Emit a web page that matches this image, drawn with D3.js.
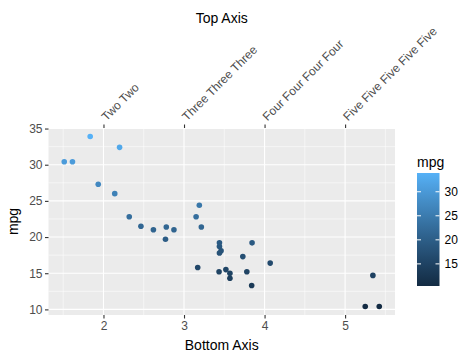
<!DOCTYPE html>
<html>
<head>
<meta charset="utf-8">
<script src="https://cdn.jsdelivr.net/npm/d3@7"></script>
<style>
  body { margin: 0; background: #fff; }
  text { font-family: "Liberation Sans", Arial, sans-serif; }
</style>
</head>
<body>
<svg id="chart" width="474" height="357"></svg>
<script>
// mtcars: weight (1000 lbs) and miles per gallon
const wt  = [2.620, 2.875, 2.320, 3.215, 3.440, 3.460, 3.570, 3.190, 3.150, 3.440, 3.440, 4.070, 3.730, 3.780, 5.250, 5.424, 5.345, 2.200, 1.615, 1.835, 2.465, 3.520, 3.435, 3.840, 3.845, 1.935, 2.140, 1.513, 3.170, 2.770, 3.570, 2.780];
const mpg = [21.0, 21.0, 22.8, 21.4, 18.7, 18.1, 14.3, 24.4, 22.8, 19.2, 17.8, 16.4, 17.3, 15.2, 10.4, 10.4, 14.7, 32.4, 30.4, 33.9, 21.5, 15.5, 15.2, 13.3, 19.2, 27.3, 26.0, 30.4, 15.8, 19.7, 15.0, 21.4];
const xTicks = [2, 3, 4, 5];
const yTicks = [10, 15, 20, 25, 30, 35];
const topLabels = ["Two Two", "Three Three Three", "Four Four Four Four", "Five Five Five Five Five"];
const legendTicks = [15, 20, 25, 30];
const titleText = "Top Axis";
const xTitle = "Bottom Axis";
const yTitle = "mpg";
const legendTitle = "mpg";

const svg = d3.select("#chart");
const P = { left: 48.5, right: 395, top: 128, bottom: 315 };

const xMin = d3.min(wt), xMax = d3.max(wt);
const xPad = (xMax - xMin) * 0.05;
const yMin = d3.min(mpg), yMax = d3.max(mpg);
const yPad = (yMax - yMin) * 0.05;

const x = d3.scaleLinear().domain([xMin - xPad, xMax + xPad]).range([P.left, P.right]);
const y = d3.scaleLinear().domain([yMin - yPad, yMax + yPad]).range([P.bottom, P.top]);
const color = d3.scaleLinear().domain([yMin, yMax]).range(["#132B43", "#56B1F7"]).interpolate(d3.interpolateLab);

// panel
svg.append("rect").attr("x", P.left).attr("y", P.top)
  .attr("width", P.right - P.left).attr("height", P.bottom - P.top).attr("fill", "#EBEBEB");

const xMinor = [1.5, 2.5, 3.5, 4.5, 5.5];
const yMinor = [12.5, 17.5, 22.5, 27.5, 32.5];
const grid = svg.append("g");
xMinor.forEach(v => grid.append("line").attr("x1", x(v)).attr("x2", x(v)).attr("y1", P.top).attr("y2", P.bottom)
  .attr("stroke", "#fff").attr("stroke-width", 0.55));
yMinor.forEach(v => grid.append("line").attr("y1", y(v)).attr("y2", y(v)).attr("x1", P.left).attr("x2", P.right)
  .attr("stroke", "#fff").attr("stroke-width", 0.55));
xTicks.forEach(v => grid.append("line").attr("x1", x(v)).attr("x2", x(v)).attr("y1", P.top).attr("y2", P.bottom)
  .attr("stroke", "#fff").attr("stroke-width", 1.1));
yTicks.forEach(v => grid.append("line").attr("y1", y(v)).attr("y2", y(v)).attr("x1", P.left).attr("x2", P.right)
  .attr("stroke", "#fff").attr("stroke-width", 1.1));

// points
svg.append("g").selectAll("circle").data(wt.map((w, i) => [w, mpg[i]])).join("circle")
  .attr("cx", d => x(d[0])).attr("cy", d => y(d[1])).attr("r", 2.8)
  .attr("fill", d => color(d[1]));

// axes
function styleAxis(sel) {
  sel.select(".domain").remove();
  sel.selectAll(".tick line").attr("stroke", "#333333").attr("stroke-width", 1.1);
  sel.selectAll(".tick text").attr("fill", "#4D4D4D").style("font-size", "12px");
}
const bottomAxis = svg.append("g").attr("transform", `translate(0,${P.bottom})`)
  .call(d3.axisBottom(x).tickValues(xTicks).tickSize(3.5).tickPadding(2.5).tickFormat(d3.format("d")));
styleAxis(bottomAxis);

const leftAxis = svg.append("g").attr("transform", `translate(${P.left},0)`)
  .call(d3.axisLeft(y).tickValues(yTicks).tickSize(3.5).tickPadding(2.5).tickFormat(d3.format("d")));
styleAxis(leftAxis);

const topAxis = svg.append("g").attr("transform", `translate(0,${P.top})`)
  .call(d3.axisTop(x).tickValues(xTicks).tickSize(3.5).tickFormat((d, i) => topLabels[i]));
styleAxis(topAxis);
topAxis.selectAll(".tick text")
  .attr("text-anchor", "start").attr("x", 0).attr("y", 0).attr("dy", null)
  .attr("transform", "translate(2.5,-6.5) rotate(-45)");

// titles
svg.append("text").attr("x", (P.left + P.right) / 2).attr("y", 23).attr("text-anchor", "middle")
  .style("font-size", "14px").attr("fill", "#000").text(titleText);
svg.append("text").attr("x", (P.left + P.right) / 2).attr("y", 350).attr("text-anchor", "middle")
  .style("font-size", "14px").attr("fill", "#000").text(xTitle);
svg.append("text").attr("transform", `translate(18,${(P.top + P.bottom) / 2}) rotate(-90)`)
  .attr("text-anchor", "middle").style("font-size", "14px").attr("fill", "#000").text(yTitle);

// legend colour bar
const L = { x: 417, w: 22.5, top: 173, bottom: 286 };
const defs = svg.append("defs");
const grad = defs.append("linearGradient").attr("id", "cbar").attr("x1", 0).attr("x2", 0).attr("y1", 1).attr("y2", 0);
d3.range(0, 1.0001, 0.05).forEach(t => {
  grad.append("stop").attr("offset", t).attr("stop-color", color(yMin + t * (yMax - yMin)));
});
svg.append("rect").attr("x", L.x).attr("y", L.top).attr("width", L.w).attr("height", L.bottom - L.top)
  .attr("fill", "url(#cbar)");
const ly = d3.scaleLinear().domain([yMin, yMax]).range([L.bottom, L.top]);
legendTicks.forEach(v => {
  svg.append("line").attr("x1", L.x).attr("x2", L.x + 4).attr("y1", ly(v)).attr("y2", ly(v)).attr("stroke", "#fff").attr("stroke-width", 1);
  svg.append("line").attr("x1", L.x + L.w - 4).attr("x2", L.x + L.w).attr("y1", ly(v)).attr("y2", ly(v)).attr("stroke", "#fff").attr("stroke-width", 1);
  svg.append("text").attr("x", L.x + L.w + 5).attr("y", ly(v)).attr("dy", "0.35em")
    .style("font-size", "12px").attr("fill", "#000").text(v);
});
svg.append("text").attr("x", L.x).attr("y", 167).style("font-size", "14px").attr("fill", "#000").text(legendTitle);
</script>
</body>
</html>
